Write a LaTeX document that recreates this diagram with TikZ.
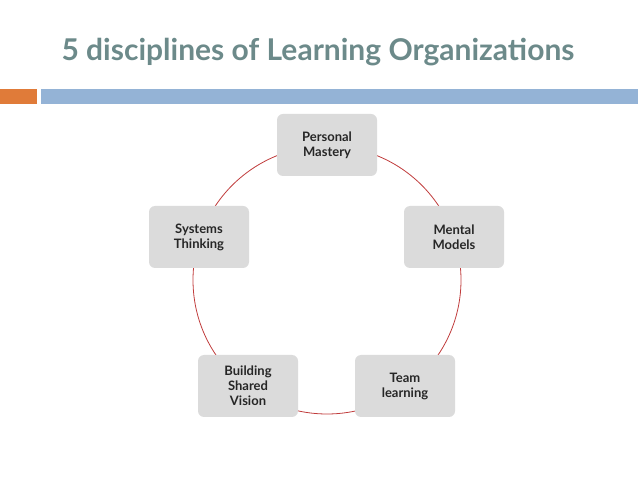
\documentclass[tikz,border=0pt]{standalone}
\usepackage{fontspec}
\setmainfont{Lato}
\begin{document}
\begin{tikzpicture}[x=1pt,y=-1pt,
  box/.style={draw=none,fill=gray!28,rounded corners=6pt,minimum width=100pt,minimum height=62pt,align=center,font=\bfseries\fontsize{13}{15}\selectfont,text=black!85}]
\useasboundingbox (0,0) rectangle (638,478);
\node[font=\bfseries\fontsize{30}{34}\selectfont,text={rgb,255:red,108;green,138;blue,138}] (title) at (318,52) {5 disciplines of Learning Organizations};
\fill[fill={rgb,255:red,224;green,123;blue,57}] (0,89) rectangle (37,104);
\fill[fill={rgb,255:red,148;green,179;blue,214}] (41,89) rectangle (638,104);
\draw[draw={rgb,255:red,192;green,60;blue,60},line width=0.8pt] (327,280) circle (134);
\node[box] (pm) at (327,145) {Personal\\Mastery};
\node[box] (mm) at (454,237) {Mental\\Models};
\node[box] (tl) at (405,386) {Team\\learning};
\node[box] (bs) at (248,386) {Building\\Shared\\Vision};
\node[box] (st) at (199,237) {Systems\\Thinking};
\end{tikzpicture}
\end{document}
